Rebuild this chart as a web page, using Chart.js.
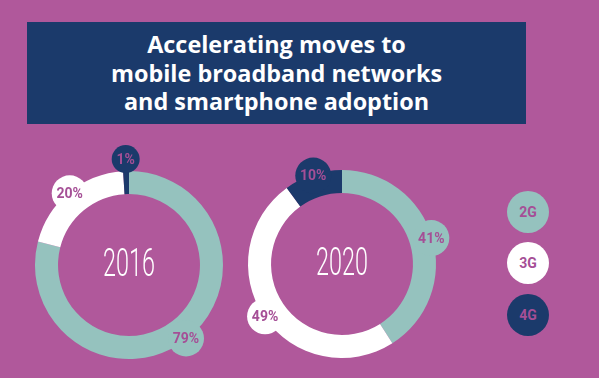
<!DOCTYPE html>
<html><head><meta charset="utf-8">
<script src="https://cdn.jsdelivr.net/npm/chart.js@4"></script>
<style>
html,body{margin:0;padding:0;}
body{width:599px;height:378px;background:#b0589b;position:relative;overflow:hidden;font-family:"Open Sans",sans-serif;}
#title{position:absolute;left:27px;top:22px;width:499px;height:102px;background:#1b3a6b;color:#fff;font-weight:700;font-size:23.4px;line-height:28.5px;text-align:center;box-sizing:border-box;padding-top:8px;}
canvas{position:absolute;}
.leg{position:absolute;width:42px;height:42px;border-radius:50%;display:flex;align-items:center;justify-content:center;color:#a54f96;font:700 14px Roboto,sans-serif;}
</style></head><body>
<div id="title">Accelerating moves to<br>mobile broadband networks<br>and smartphone adoption</div>
<canvas id="c2016" width="260" height="260" style="left:-1px;top:135px"></canvas>
<canvas id="c2020" width="260" height="260" style="left:212px;top:134px"></canvas>
<div id="legend"></div>
<script>
const categories = ['2G', '3G', '4G'];
const years = ['2016', '2020'];
const share2016 = [79, 20, 1];
const share2020 = [41, 49, 10];
const colors = ['#95c2be', '#ffffff', '#1b3a6b'];
const labelColor = '#a54f96';

const bubblePlugin = {
  id: 'bubbles',
  afterDatasetsDraw(chart, args, opts) {
    const ctx = chart.ctx;
    const meta = chart.getDatasetMeta(0);
    const data = chart.data.datasets[0].data;
    let cx = 0, cy = 0;
    meta.data.forEach((arc, i) => {
      const p = arc.getProps(['x', 'y', 'startAngle', 'endAngle', 'outerRadius', 'innerRadius'], true);
      cx = p.x; cy = p.y;
      const mid = (p.startAngle + p.endAngle) / 2;
      const small = data[i] < 5;
      const r = small ? 14 : 18;
      const d = small ? p.outerRadius + 12 : p.outerRadius - 1;
      const bx = p.x + Math.cos(mid) * d, by = p.y + Math.sin(mid) * d;
      ctx.save();
      ctx.fillStyle = colors[i];
      if (small) {
        ctx.strokeStyle = colors[i];
        ctx.lineWidth = 3;
        ctx.beginPath();
        ctx.moveTo(p.x + Math.cos(mid) * (p.outerRadius - 4), p.y + Math.sin(mid) * (p.outerRadius - 4));
        ctx.lineTo(bx, by);
        ctx.stroke();
      }
      ctx.beginPath();
      ctx.arc(bx, by, r, 0, Math.PI * 2);
      ctx.fill();
      ctx.fillStyle = labelColor;
      ctx.font = '700 14px Roboto, sans-serif';
      ctx.textAlign = 'center';
      ctx.textBaseline = 'middle';
      ctx.fillText(data[i] + '%', bx, by + 1);
      ctx.restore();
    });
    ctx.save();
    ctx.translate(cx, cy);
    ctx.scale(0.6, 1);
    ctx.fillStyle = '#ffffff';
    ctx.font = '300 39px Roboto, sans-serif';
    ctx.textAlign = 'center';
    ctx.textBaseline = 'middle';
    ctx.fillText(opts.year, 0, 1);
    ctx.restore();
  }
};

function makeChart(id, values, year) {
  return new Chart(document.getElementById(id), {
    type: 'doughnut',
    data: {
      labels: categories,
      datasets: [{ data: values, backgroundColor: colors, borderWidth: 0, hoverOffset: 0 }]
    },
    options: {
      responsive: false,
      animation: false,
      events: [],
      radius: 94,
      cutout: '75.5%',
      layout: { padding: 0 },
      plugins: { legend: { display: false }, tooltip: { enabled: false }, bubbles: { year: year } }
    },
    plugins: [bubblePlugin]
  });
}
makeChart('c2016', share2016, years[0]);
makeChart('c2020', share2020, years[1]);

const legendTops = [191, 242, 294];
const legend = document.getElementById('legend');
categories.forEach((c, i) => {
  const d = document.createElement('div');
  d.className = 'leg';
  d.style.left = '507px';
  d.style.top = legendTops[i] + 'px';
  d.style.background = colors[i];
  d.textContent = c;
  legend.appendChild(d);
});
</script>
</body></html>
